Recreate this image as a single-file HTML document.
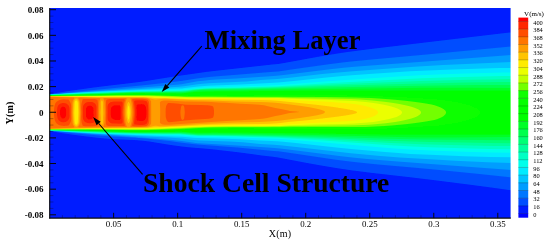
<!DOCTYPE html><html><head><meta charset="utf-8"><title>Jet velocity contour</title>
<style>html,body{margin:0;padding:0;background:#fff}svg{display:block}text{font-family:"Liberation Serif",serif;fill:#000}</style></head><body>
<svg width="550" height="245" viewBox="0 0 550 245">
<defs><clipPath id="pc"><rect x="49.6" y="8.1" width="461.0" height="210.0"/></clipPath>
<filter id="bl" x="-2%" y="-2%" width="104%" height="104%"><feGaussianBlur stdDeviation="0.50"/></filter></defs>
<rect width="550" height="245" fill="#fff"/>
<g clip-path="url(#pc)"><g filter="url(#bl)" fill-rule="evenodd">
<rect x="46.6" y="5.1" width="467.0" height="216.0" fill="#0000ff"/>
<path fill="#001bff" d="M48.9,7.1 511.6,7.1 511.6,219.1 48.6,219.1 48.6,7.1Z"/>
<path fill="#004eff" d="M509.4,32.6 510.9,32.4 511.6,32.4 511.6,190.3 510.6,190.3 491.1,187.6 468.4,184.6 436.9,180.6 412.3,177.6 370.6,172.7 351.1,170.2 337.6,168.2 322.6,165.8 307.1,163 278.1,157.6 272.9,156.8 261.9,155.5 243.9,153.1 229.6,151.3 214.2,149.6 206.7,148.8 191.3,147.5 181.8,146.5 170.8,145 149.2,141.6 143.2,140.8 134.2,140.1 116.1,139.2 108.3,138.8 102.3,138.3 97.3,137.7 84.8,136.2 73.1,134.7 61.1,133 49.6,131.1 48.6,131 48.6,94.2 49.6,94.1 59.3,92.5 70.6,90.7 90.1,88 103.8,86.2 129.2,83.3 141.1,81.8 149.3,80.6 174.1,76.5 205.6,72 213.8,71 243.1,67.8 272.2,64.6 278.1,63.9 284.1,62.9 316.9,57 328.4,55 342.4,52.7 354.9,51 374.9,48.5 420.9,43.1Z"/>
<path fill="#0076ff" d="M511.1,46.6 511.6,46.6 511.6,177.4 510.1,177.3 477.2,173.8 436.9,169.8 418.4,168.1 378.4,164.5 356.4,162.2 345.9,161 334.4,159.5 283.8,152.1 278.2,151.3 273.6,150.9 237.6,147.6 197.6,144.5 192.8,144 180.3,142.4 169.5,141.1 155.6,139.6 145.3,138.6 135.6,137.8 112.6,136.5 101.8,135.7 76.8,133.5 48.6,130.7 48.6,94.5 86.1,90.7 133.4,86.3 152.9,84.3 168.4,82.6 180.8,81.1 185.8,80.3 198.6,78.2 209.1,77 214.8,76.5 236.8,74.8 249.3,73.8 270.6,72.1 278.4,71.4 295,69.1 328.9,64.2 342.4,62.5 353.6,61.2 371.9,59.5 426.7,54.6Z"/>
<path fill="#009dff" d="M511.1,55.1 511.6,55.1 511.6,170.1 427.4,163.7 391.1,161.1 367.3,159.1 354.6,157.8 341.3,156.3 294.4,150.2 282.1,148.7 274.6,148 256.6,146.7 236.8,145.5 220.1,144.6 198.9,143.3 197.8,143.2 196.3,143.1 195.6,142.9 192.5,142.6 181.6,140.9 174.6,140.2 170.4,139.8 169.4,139.7 167.6,139.6 166.4,139.4 161.5,139.1 160.1,138.9 158.3,138.8 157.1,138.7 155,138.6 153.8,138.4 151.6,138.3 150.3,138.2 148.1,138.1 147.1,137.9 144.7,137.8 143.6,137.7 141.3,137.6 140.3,137.4 138.1,137.4 137.1,137.2 134.8,137.1 133.6,136.9 131.3,136.9 130.1,136.7 127.9,136.6 126.6,136.4 124.4,136.3 96.6,134.3 48.6,130.5 48.6,94.7 50.1,94.6 63.6,93.4 91.6,91.2 154.9,86.6 170.4,85.3 181.8,84.2 185.4,83.6 193.8,82 197.7,81.3 203.1,80.7 209.3,80.1 216.3,79.6 236.3,78.5 251.2,77.6 270.1,76.3 276.4,75.8 281.4,75.3 293.7,73.8 317.9,70.7 330.1,69.2 343.6,67.7 354.6,66.7 370.9,65.5 425.7,61.6Z"/>
<path fill="#00c4ff" d="M511.1,62.1 511.6,62.1 511.6,163.1 487.4,162.2 455.1,160.7 425.8,159.1 399.4,157.4 377.6,155.7 350.9,153.2 335.4,151.5 298.6,147.2 280.1,145.3 273.9,144.8 260.1,143.9 243,142.3 229.5,141.6 199.1,140.4 193.8,140 182,138.6 175.6,138.1 167.6,137.6 140.8,136.3 100.3,134 76.1,132.4 48.6,130.4 48.6,94.8 72.6,93 99.3,91.2 140.8,88.9 167.6,87.6 179,86.8 183.9,86.3 197.6,84.3 202.8,83.7 208.8,83.3 213.3,83 230.6,82.3 240.2,81.8 246.6,81.4 260.7,80.1 277.4,79 292.1,77.5 322.2,74.1 338.4,72.4 352.9,71.2 382.9,69 414.1,66.8 443.1,65.1 477.1,63.5Z"/>
<path fill="#00ebff" d="M499.1,68.1 511.6,67.9 511.6,157.3 490.9,156.9 464.4,156.2 429.8,154.8 410.4,153.9 398.4,153.1 384.9,152.1 353.6,149.3 338.7,147.8 298.1,143.3 283.3,141.8 277.3,141.3 259.9,140.5 239.6,139.3 225.4,138.8 197.6,138.1 192.8,137.7 182.6,136.8 173.1,136.4 140.3,135.3 104.3,133.7 89.1,133 74.8,132.1 48.6,130.3 48.6,94.9 74.8,93.1 103.3,91.5 139.8,89.9 166.4,89.1 178.4,88.6 182.1,88.4 184.9,88.1 198.3,86.4 207.6,85.8 213.8,85.5 240.7,84.6 260.4,83.5 278,82.6 283.8,82.1 296.2,80.8 326.6,77.6 342.5,76.1 351.8,75.3 372.8,73.8 410.3,71.3 427.6,70.4 452.9,69.4 475.9,68.7Z"/>
<path fill="#00ffeb" d="M503.4,72.6 511.6,72.5 511.6,152.7 492.1,152.4 464.6,151.7 429.9,150.5 410.6,149.5 398.6,148.7 385.4,147.7 315.5,141.8 278,138.8 234.8,137.4 197.3,136.6 192.1,136.2 183.8,135.6 178.6,135.3 170,135.1 140.8,134.5 114.6,133.7 97.3,133 79.2,132.1 66.2,131.3 48.6,130.2 48.6,95 66.2,93.8 79.2,93.1 93.8,92.4 109.6,91.7 139.6,90.7 170,90.1 180.3,89.8 186,89.3 198.3,87.9 205.3,87.5 210.3,87.2 236.6,86.6 261.4,85.7 273.3,85.3 278.8,85.1 314.6,82.2 331.4,81 367.8,78.6 402.6,76.2 419.9,75.2 436.9,74.5 465.1,73.5 484.6,73Z"/>
<path fill="#00ffc4" d="M502.6,76.1 511.6,76 511.6,149.2 489.6,148.9 462.1,148.3 429.4,147.2 412.4,146.5 389.9,145.2 323.7,140.6 277.4,137.7 236.6,136.5 213.6,136.1 198.6,135.9 194.3,135.7 184.1,134.8 178.6,134.6 166.1,134.4 141.3,134 121.1,133.5 100.3,132.7 83.3,132 67.8,131.2 48.6,130.1 48.6,95.1 67.6,94 81.8,93.3 115.8,91.9 139.6,91.2 168.3,90.8 180.8,90.5 186.1,90.1 194.8,89 198.3,88.7 204.6,88.3 210.1,88.1 240.1,87.4 277.9,86.3 327.9,83.2 369.2,81.1 407.1,79 422.4,78.2 437.6,77.7 463.4,76.9 483.1,76.4Z"/>
<path fill="#00ff9d" d="M511.1,79.1 511.6,79.1 511.6,146.1 493.9,145.9 470.1,145.5 440.6,144.8 420.6,144.2 403.6,143.5 390.9,142.9 322.1,139.1 278.6,136.9 236.1,135.9 213.1,135.5 198.6,135.4 194.1,135.1 184.1,134.3 180.1,134.1 168.8,133.9 142.3,133.6 126.1,133.3 84.6,131.7 48.6,130 48.6,95.2 84.3,93.5 125.1,92 142.1,91.6 169.1,91.3 180.6,91.1 185.6,90.7 197.6,89.2 206.8,88.7 214.1,88.5 239.8,88.1 277.9,87.1 327.4,84.7 369.9,83.1 420.6,81 440.4,80.4 469.6,79.7 489.6,79.4Z"/>
<path fill="#00ff76" d="M499.6,82.1 511.6,82 511.6,143.2 489.4,143 464.9,142.6 430.1,142 412.4,141.5 387.6,140.7 321.4,137.8 279.9,136.2 236.3,135.3 213.1,135 198.6,134.9 194.6,134.7 185.1,133.9 180.8,133.6 170.1,133.5 142.3,133.3 129.3,133 84.3,131.4 48.6,129.9 48.6,95.3 84.3,93.8 129.1,92.2 142.3,91.9 170.1,91.7 180.8,91.6 185.6,91.2 194.1,90.1 198.1,89.7 203.5,89.3 210,89.1 239.6,88.7 277.6,87.8 327.9,86.1 373.6,84.8 422.9,83.4 465.1,82.6Z"/>
<path fill="#00ff4e" d="M476.4,85.1 511.6,84.9 511.6,140.3 481.6,140.1 447.9,139.8 422.1,139.5 399.6,139 380.6,138.5 320.9,136.5 282.1,135.5 236.8,134.7 213.1,134.4 198.3,134.4 193.1,134.1 184.3,133.3 180.6,133.1 140.8,132.9 129.8,132.7 48.6,129.9 48.6,95.3 130.8,92.5 141.3,92.3 180.8,92.1 183.1,92 185.6,91.7 194,90.6 198.6,90.1 204,89.8 211.3,89.6 243.1,89.3 281.1,88.5 327.4,87.4 379.1,86.6 420.9,85.7Z"/>
<path fill="#00ff27" d="M419.9,87.8 471.4,87.8 511.6,88.1 511.6,137.1 485.6,137.3 451.9,137.4 424.9,137.4 406.1,137.2 390.1,136.8 335.9,135.4 312.6,134.9 237.1,133.8 213.1,133.6 198.3,133.7 193.8,133.5 184.6,132.6 180.8,132.5 139.8,132.4 132.3,132.3 123.1,132.1 101.3,131.3 48.6,129.8 48.6,95.4 101.3,93.9 123.1,93.1 132.3,92.8 139.6,92.8 181.1,92.7 185.6,92.4 194.4,91.3 198.3,90.8 203.8,90.6 210.8,90.4 240.3,90.2 261.1,89.8 322.9,89 369.6,88.6Z"/>
<path fill="#00ff00" d="M315.9,90.6 338.1,90.5 385.1,90.6 428.9,90.4 511.6,90.4 511.6,134.8 428.9,134.8 398.9,134.7 376.4,134.4 316.4,133.4 243.6,132.7 213.6,132.6 198.1,132.7 194.3,132.6 185.3,132 181.3,131.8 143.8,132 133.1,131.9 123.6,131.7 100.8,130.9 48.6,129.7 48.6,95.5 100.8,94.3 123.6,93.5 133.1,93.3 143.8,93.2 181.1,93.4 185.6,93.1 194.8,92.1 197.8,91.9 209.1,91.5 242.4,91.3Z"/>
<path fill="#00ff00" d="M293.4,92.3 318.9,92.1 340.9,92.2 439.6,93.2 456.1,93.6 472.6,94.3 489.6,95.2 511.6,96.5 511.6,128.7 493,129.8 479.9,130.6 466.1,131.2 452.9,131.7 432.6,132.1 389.1,132.5 358.4,132.3 289.4,131.6 276.9,131.4 243.8,131.2 213.1,131.2 197.1,131.5 183.1,131.1 178.1,131.1 147.6,131.5 136.3,131.5 125.6,131.3 100.3,130.6 48.6,129.6 48.6,95.6 100.6,94.6 124.3,93.9 133.8,93.7 146.1,93.7 170.6,94 180.6,94.1 185.6,93.9 197.8,93.1 208.1,92.9 246.6,92.8 276.6,92.6Z"/>
<path fill="#04ff00" d="M308.6,93.8 332.4,93.8 361.6,94.1 383.9,94.6 416.6,95.4 434.1,96 445.6,96.7 458.6,97.7 470.6,98.9 476.9,99.7 483.4,100.7 489.4,101.7 494.6,102.7 499.1,103.7 503.1,104.7 507.4,105.9 510.9,107.2 511.6,107.2 511.6,118 510.9,118 506.9,119.4 502.4,120.7 497.1,122 492.1,123 486.6,124 480.1,125 473.1,125.9 466.4,126.7 453.1,128 439.4,128.9 423.9,129.5 399.4,130.3 381.4,130.6 362.6,130.6 320.9,130.2 289.6,130 275.4,129.8 235.1,129.6 211.6,129.8 188.3,130.3 174.6,130.4 149.8,130.9 139.1,131 127.1,130.9 100.1,130.2 48.6,129.5 48.6,95.7 100.3,95 125.8,94.3 136.3,94.2 148.1,94.2 164.6,94.6 181.1,94.8 187.6,94.7 209.8,94.3 237.1,94.4 255.3,94.4 277.1,94.2 289.1,94Z"/>
<path fill="#0eff00" d="M123.3,94.8 136.3,94.7 146.8,94.7 156.8,94.9 181.1,95.6 192.3,95.7 211.6,95.6 237.6,95.7 277.1,95.6 289.9,95.5 315.6,95.5 333.6,95.6 355.6,95.8 365.6,96 378.2,96.4 395.4,97.1 413.9,98.1 435.1,99.6 440.2,100.1 446.3,100.8 451.3,101.6 455.6,102.3 460.5,103.3 465.6,104.6 469.9,105.8 473.9,107.4 476.5,108.6 478.3,109.8 479.1,110.6 479.6,111.3 479.9,111.8 480,112.6 479.9,113.3 479.6,113.9 479.1,114.6 478.3,115.3 477.3,116.1 476,116.8 474.5,117.6 472.7,118.3 468.3,119.8 463.7,121.1 458.1,122.3 452.8,123.3 448,124.1 442.4,124.8 437.9,125.4 432.4,125.8 409.6,127.3 390.1,128.3 375.9,128.7 361.6,128.9 323.1,128.6 288.9,128.5 277.1,128.4 237.6,128.3 214.6,128.4 207.1,128.6 199.3,128.8 181.1,129.6 155,130.3 141.6,130.5 128.8,130.5 100.1,129.9 48.6,129.4 48.6,95.8 100.3,95.3Z"/>
<path fill="#73ff00" d="M120.6,95.3 136.6,95.2 148.1,95.2 158.9,95.5 186.1,96.4 195.3,96.6 211.3,96.5 234.1,96.7 265.4,96.7 324.4,97 355.1,97.5 362.9,97.8 370.9,98.1 378.7,98.6 389,99.3 397.6,100.1 405.1,100.8 411.6,101.6 419.2,102.6 425.8,103.6 431.5,104.6 434.6,105.3 437.4,106.2 440.1,107.2 442.1,108.2 443.8,109.3 444.6,110 445.2,110.6 445.8,111.6 446,112.1 446,112.8 445.7,113.8 445.2,114.6 444.7,115.1 443.4,116.2 441.6,117.2 439.4,118.3 436.9,119.2 434.4,119.9 431.5,120.6 425.8,121.6 419.2,122.6 411.6,123.6 405.1,124.3 391.6,125.6 384.5,126.1 375.1,126.6 365.4,126.9 355.9,127.1 314.6,127.1 266.9,127.3 233.1,127.3 213.1,127.5 199.1,127.9 180.9,128.9 156.6,129.8 143.6,130 130.8,130 100.8,129.6 48.6,129.3 48.6,95.9 100.6,95.6Z"/>
<path fill="#c0ff00" d="M116.1,95.8 135.8,95.7 147.1,95.7 157.6,96 183.9,97.1 194.8,97.3 212.1,97.2 232.6,97.4 264.9,97.4 277.1,97.5 293.1,98 336.1,98.7 349.1,99.1 359.6,99.5 366.1,99.9 372.4,100.4 384.1,101.7 389.9,102.5 394.9,103.2 399.4,104 404.1,104.9 407.6,105.7 411.4,106.7 414.4,107.7 416.9,108.7 418.5,109.6 419.9,110.6 420.4,111.1 420.7,111.6 420.9,112.1 421,112.6 420.9,113.1 420.7,113.6 420.4,114.1 419.9,114.6 418.5,115.6 416.9,116.5 414.4,117.5 411.4,118.5 408.4,119.3 404.4,120.2 399.4,121.2 395.1,121.9 385.6,123.2 374.9,124.3 369.1,124.7 363.1,125 356.4,125.3 347.9,125.4 300.6,125.9 289.9,126.1 278.9,126.4 271.9,126.5 231.3,126.6 210.6,126.8 198.3,127.2 182.6,128.1 161.8,129 152.4,129.3 144.8,129.5 133.3,129.5 101.6,129.2 48.6,129.3 48.6,95.9 100.1,96Z"/>
<path fill="#ebff00" d="M48.9,96 92.3,96.3 142.3,96.2 152.1,96.4 176.3,97.5 187.9,97.8 195.6,97.8 211.8,97.7 232.1,97.8 269.1,97.9 278.8,98.1 288.9,98.7 296.6,99 326.6,99.8 340.4,100.4 354.1,101.1 363.1,101.8 367.7,102.3 373.4,103.1 378.2,103.8 383.7,104.8 387.2,105.6 391.2,106.6 394.6,107.6 397.3,108.6 399.3,109.6 400.8,110.6 401.3,111.1 401.7,111.6 401.9,112.1 402,112.6 401.8,113.3 401.5,113.8 401.1,114.3 400.2,115.1 398.4,116.1 396.6,116.9 393.7,117.8 391.1,118.6 388,119.3 381.7,120.6 373.4,121.9 363.9,122.8 354.6,123.5 342.4,123.9 313.9,124.5 299.1,124.9 289.4,125.3 279.4,125.9 273.9,126 263.6,126.2 225.1,126.2 208.1,126.4 197.8,126.8 155.1,128.7 145.3,129 137.8,129 90.6,128.9 48.6,129.2 48.6,96Z"/>
<path fill="#ffeb00" d="M48.9,96.1 88.3,96.5 143.1,96.7 149.1,96.9 174.3,98.1 184.8,98.4 192.9,98.4 211.1,98.3 235.3,98.4 263.1,98.4 273.8,98.6 279.6,98.8 288.6,99.7 292.9,100 301.4,100.5 327.9,101.8 337.4,102.4 347.1,103.2 355.9,104.2 360.6,105 365.1,106 368.9,107 372.1,108 374.9,109.2 376.6,110.3 377.2,110.8 377.8,111.6 378,112.1 378,112.6 377.8,113.3 377.5,113.8 377,114.3 376.3,114.8 374.4,116 371.9,117 368.6,118 364.6,119 360.6,119.7 356.9,120.3 350.4,120.9 342.6,121.5 333.6,122 311.6,123 297.6,123.7 289.4,124.2 280.4,125.1 277.6,125.3 263.6,125.6 229.8,125.6 210.8,125.8 203.6,126 174.3,127.1 149.1,128.3 143.1,128.5 88.6,128.7 48.6,129.1 48.6,96.1Z"/>
<path fill="#ffc400" d="M48.8,96.2 75.8,96.7 94.8,96.9 142.3,97.1 147.3,97.3 154.8,97.9 162.8,98.1 177.3,98.8 184.8,99 193.3,99.2 210.3,99.3 236.6,99.8 261.1,100 269.9,100.3 277.4,100.7 280.4,101 289.9,102.1 301.6,103.2 313.4,104.5 316.3,104.8 317.6,104.9 318.5,105.1 319.9,105.2 320.5,105.3 321.9,105.4 322.5,105.6 323.9,105.7 324.5,105.8 325.9,106 326.5,106.1 327.6,106.2 328.3,106.3 329.6,106.4 330.2,106.6 331.4,106.7 332,106.8 333.4,107 333.8,107.1 334.9,107.2 335.6,107.3 336.6,107.4 337.3,107.6 338.4,107.7 338.9,107.9 339.9,107.9 340.5,108.1 341.6,108.2 342.1,108.3 343.1,108.4 343.6,108.6 344.6,108.7 345.1,108.8 346.1,108.9 346.5,109.1 347.4,109.2 347.8,109.3 348.6,109.4 349.2,109.6 350.1,109.7 350.4,109.9 351.1,109.9 351.6,110.1 352.1,110.1 352.6,110.3 353.1,110.4 353.6,110.6 354.1,110.7 355.6,111.2 356.6,111.7 357,112.1 357.1,112.3 356.9,112.7 356.1,113.2 354.6,113.8 354.1,113.8 353.6,114 353.1,114.1 352.6,114.3 352,114.3 351.4,114.5 350.7,114.6 350.1,114.8 349.3,114.8 348.9,115 347.9,115.1 347.4,115.3 346.3,115.3 345.9,115.5 344.8,115.6 344.1,115.8 343.1,115.8 342.4,116 341.3,116.1 340.6,116.3 339.6,116.3 338.9,116.5 337.7,116.6 337.1,116.8 335.8,116.8 335.1,117 333.8,117.1 333.4,117.2 331.8,117.3 331.1,117.5 329.8,117.6 329.1,117.8 327.8,117.8 327.1,118 325.6,118.1 324.9,118.3 323.5,118.3 322.9,118.5 319.1,118.8 318.4,119 316.9,119.1 316.1,119.2 302.1,120.7 288.1,122.1 280.6,123 277.6,123.3 270.6,123.7 262.4,124 234.1,124.3 211.3,124.8 201.1,125.2 185.1,126.1 164.8,127 160.8,127.2 154.8,127.3 147.3,127.9 143.3,128 94.1,128.3 75.8,128.5 48.6,129 48.6,96.2ZM75.8,100.6 75.3,101 75.1,101.5 74.8,102.3 74.7,103.3 74.3,113.1 74.5,117.3 74.6,121.1 74.8,122.6 75.1,123.6 75.3,124.2 75.8,124.6 76.3,124.7 76.8,124.5 77.3,123.9 77.6,123.1 77.8,122.1 78.3,112.1 78,107.6 77.9,103.8 77.7,102.3 77.3,101.3 76.8,100.7 76.3,100.5ZM128.6,105.6 128.3,105.8 128.1,106.4 127.8,107.6 127.5,110.1 127.3,112.6 127.5,115.1 127.8,117.7 128.1,118.8 128.3,119.3 128.6,119.6 128.8,119.4 129.1,118.8 129.4,117.6 129.7,115.1 129.9,112.6 129.7,110.1 129.4,107.6 129,106.1 128.8,105.8Z"/>
<path fill="#ff9d00" d="M48.9,96.4 75.1,97 99.1,97.4 101.8,97.5 105.1,97.4 143.3,97.6 146.1,97.7 147.8,97.9 149.6,98.2 153.6,99.2 155.1,99.4 156.3,99.4 161.1,98.9 165.6,98.8 189.9,100 211.1,100.5 235.1,101.4 258.9,102 267.4,102.3 275.1,102.8 280.5,103.3 299.7,105.8 309.6,107.3 316.9,108.7 319.1,109.2 321.6,109.9 323.1,110.5 324.1,111 324.8,111.6 325,111.8 325,112.1 324.8,112.6 323.9,113.3 322.9,113.7 321.4,114.2 317.1,115.3 309.9,116.6 300,118.1 280.9,120.6 275.7,121.1 268.4,121.6 259.1,122 236.8,122.6 214.1,123.4 200.6,124.1 180.6,125.6 165.9,126.3 161.3,126.3 159.3,126.2 156.3,125.8 155.1,125.8 153.6,126 149.6,127 147.8,127.3 143.3,127.6 105.1,127.8 101.8,127.7 99.1,127.8 75.1,128.2 48.6,128.8 48.6,96.4ZM75.7,98.8 75.1,99.3 74.5,100.1 74,101.1 73.7,102.3 73.4,104.3 73.1,113.1 73.5,121.1 73.6,122.3 73.8,123.3 74.2,124.6 74.8,125.6 75.6,126.3 75.8,126.4 76.3,126.5 76.8,126.4 77.1,126.2 77.9,125.3 78.4,124.3 78.8,123.1 79.1,120.8 79.4,113.8 79.4,111.8 79,103.8 78.9,102.6 78.7,101.6 78.2,100.3 77.8,99.8 77.3,99.2 76.9,98.8 76.6,98.7 76.1,98.7ZM101.6,100.6 101.3,100.8 101.1,101.2 100.8,102.6 100.8,103.8 100.9,107.3 100.6,111.3 100.5,112.8 100.9,117.8 100.8,121.3 100.8,122.8 101.2,124.1 101.3,124.4 101.6,124.6 101.8,124.7 102.1,124.6 102.3,124.5 102.6,124.2 102.8,123.5 103,122.6 103.1,121.3 103,117.8 103.3,113.8 103.3,112.4 103,107.6 103.1,103.6 103,102.3 102.8,101.6 102.5,100.8 102.1,100.6ZM128.3,102.1 127.9,102.6 127.5,103.3 126.9,105.3 126.3,109.6 126.2,112.8 126.2,114.6 126.4,116.6 127.1,120.3 127.4,121.6 127.8,122.3 128.3,123.1 128.6,123.2 128.9,123.1 129.4,122.3 129.8,121.3 130.2,120.1 130.8,116.1 131,114.1 131.1,112.3 131,110.6 130.7,108.3 130.4,106.1 130,104.3 129.5,103.1 129.1,102.4 128.8,102.1 128.6,102Z"/>
<path fill="#ff7600" d="M48.8,96.8 72.3,97.4 74.1,97.6 74.3,97.8 74.4,98.1 74.1,98.8 73.5,99.6 72.9,100.6 72.5,102.1 72.4,103.6 72.4,107.6 72.2,112.3 72.5,122.8 72.7,123.8 73,124.8 73.5,125.6 74.1,126.4 74.4,127.1 74.4,127.3 74.1,127.6 72.1,127.8 48.6,128.4 48.6,96.8ZM80.1,97.6 97.3,97.9 99.3,98.1 100.3,98.4 100.4,98.6 100.4,98.8 100.1,99.3 99.6,100.8 99.3,102.6 99,112.6 99.3,122.6 99.6,124.3 100.1,125.9 100.4,126.3 100.4,126.6 100.3,126.8 99.1,127.2 97.3,127.3 81.1,127.6 79.1,127.5 78.4,127.3 78.3,127.1 78.3,126.6 78.6,126.1 79.1,125.3 79.5,124.6 79.9,123.1 80,121.3 80.4,112.6 80,103.8 79.9,102.1 79.5,100.6 79.1,99.8 78.6,99.1 78.3,98.6 78.3,98.1 78.4,97.8 78.8,97.7ZM104.8,98.1 107.3,98 125.6,98.1 126.3,98.2 126.7,98.3 126.7,98.8 125.8,101.6 125.5,103.1 124.9,109.8 124.8,112.6 124.9,115.3 125.5,122.1 125.8,123.6 126.7,126.3 126.7,126.6 126.6,126.9 126.3,127 125.6,127.1 106.6,127.2 104.6,127.1 103.6,126.8 103.4,126.6 104.2,124.1 104.5,122.6 104.9,112.6 104.5,102.6 104.2,101.1 103.4,98.6 103.6,98.3ZM135.8,98.1 143.3,98.2 145.8,98.3 147.6,98.6 148.9,99.1 149.7,99.6 150.4,100.3 151.1,101.6 151.2,109.3 151.2,118.3 151.1,123.6 150.4,124.8 149.9,125.3 149.4,125.8 148.4,126.3 147.6,126.6 146.3,126.8 142.3,127.1 131.6,127.1 130.8,127 130.6,126.8 130.4,126.3 131.3,123.1 131.6,121.6 132.3,115.6 132.4,112.6 132.3,109.6 131.6,103.6 131.3,102.1 130.6,99.3 130.5,98.6 130.6,98.3 131.1,98.2ZM164.1,100.6 165.8,100.4 168.6,100.4 180.6,101.2 185.1,101.5 203.6,101.7 211.3,101.9 218.1,102.5 225.6,102.8 240.1,103.8 251.9,104.3 259.2,104.8 264,105.3 266.9,105.9 275.4,107.9 280.9,108.9 288.1,110.6 289.6,110.9 296.6,111.6 297.6,111.8 298.7,111.8 299.1,112.1 297.9,112.2 297.1,112.3 290,113.1 288.4,113.3 281.1,115 275.5,116.1 267.1,118.1 264.3,118.6 259.9,119.1 252.8,119.6 240.8,120.2 226.4,121.1 219.1,121.5 211.1,122.1 184.6,123.7 169.3,124.8 167.3,124.8 164.8,124.7 162.9,124.5 161.4,124.1 160.4,123.3 159.9,122.8 160.1,117.8 160.2,112.6 160.1,107.3 159.9,102.3 160.4,101.8 161.4,101.1 162.6,100.8Z"/>
<path fill="#ff4e00" d="M136.3,98.8 142.3,98.8 144.3,99 145.8,99.2 146.8,99.5 147.6,99.8 148.1,100.3 148.7,101.3 149,102.3 149.2,104.1 149.4,107.6 149.5,115.3 149.3,119.6 149.1,122 148.7,123.8 147.9,125.1 147.1,125.6 146.3,125.9 144.8,126.2 142.8,126.3 140.8,126.4 137.1,126.4 133.6,126.2 132.6,126.1 132.2,125.8 132.2,125.6 132.3,124.6 132.8,122.6 133.2,119.8 133.6,115.3 133.7,112.6 133.6,109.6 133.1,104.8 132.8,102.6 132.3,100.6 132.2,99.6 132.2,99.3 132.3,99.2 132.8,99ZM83.8,99.1 87.8,99 94.6,99.1 95.6,99.2 96.3,99.4 97.3,99.8 97.4,100.1 97.8,102.1 98,105.1 98,107.6 97.8,112.6 98,119.6 97.8,122.4 97.6,124.1 97.3,125.2 97.3,125.3 96.8,125.6 96.1,125.9 95.3,126.1 92.8,126.2 85.1,126.2 83.6,126.1 82.7,125.8 81.6,122.3 81.3,120.1 81.2,117.6 81.4,112.6 81.2,107.8 81.3,105.9 81.4,104.3 81.6,102.9 82.6,99.6 82.7,99.3ZM63.6,99.3 67.1,99.4 68.1,99.6 68.6,99.8 68.9,100.1 69.3,100.7 70.3,102.5 70.8,103.8 71.1,105.1 71.2,107.3 71.1,112.6 71.2,117.6 71.2,119.3 71,120.6 70.8,121.6 70.3,122.7 69.1,124.9 68.8,125.2 68.3,125.5 67.3,125.8 66.1,125.8 63.9,125.9 61.9,125.7 59.6,125.2 58.9,125 58.1,124.6 57.4,124.1 56.5,123.3 56.1,122.8 55.6,122.1 55.1,121.1 54.7,120.1 54.3,117.8 54.1,116.1 54,114.3 54,110.8 54.1,108.6 54.3,107.3 54.5,105.8 55,104.3 55.4,103.3 56.1,102.3 56.6,101.8 57.6,100.9 58.6,100.4 59.6,100 60.9,99.7 61.9,99.5ZM108.1,99.3 109.6,99.1 112.1,99.1 123.6,99.1 124.3,99.2 124.7,99.3 124.8,99.8 124.8,100.6 124.3,102.3 124,104.3 123.6,110.1 123.5,112.6 123.6,115.1 124.1,121.3 124.3,123.1 124.8,124.8 124.8,125.6 124.7,125.8 124.6,125.9 124.1,126 123.3,126.1 109.6,126.1 108.3,125.9 107.6,125.8 106.8,125.4 106.3,125.1 106.2,124.8 106,123.6 105.9,120.1 105.9,117.8 106.1,112.8 105.9,106.3 106,102.1 106.2,100.6 106.4,100.1 107.1,99.6ZM168.3,103.1 169.6,103 173.8,103.3 178.8,103.8 184.1,104.6 186.6,104.8 200.8,105.1 207.6,105.3 209.8,105.5 212.1,105.9 212.8,106.3 213.1,106.7 213.5,107.6 213.8,108.8 214,110.6 214,113.3 213.9,114.8 213.6,116.1 213.1,117.4 212.9,117.6 212.6,117.9 212.1,118.1 211.3,118.3 209.1,118.7 196.8,119.6 187.1,120.2 184.3,120.5 178.8,121.3 174.3,121.8 169.6,122.2 168.3,122.1 167.6,121.6 167,120.8 166.5,119.8 166.1,118.6 165.8,117.6 165.7,116.1 165.6,112.1 165.7,108.6 165.9,107.6 166.1,106.3 166.6,105.1 167.1,104.2 167.6,103.6ZM182.2,105.3 181.6,105.8 181.3,106.3 181.1,106.9 180.5,110.8 180.4,112.8 180.8,116.9 181.2,118.6 181.4,119.1 181.8,119.6 182.2,119.8 182.6,119.9 182.9,119.8 183.4,119.6 183.9,119.1 184.1,118.6 184.3,117.3 184.7,113.6 184.8,112.3 184.3,107.6 184,106.3 183.7,105.8 183.1,105.4 182.6,105.3Z"/>
<path fill="#ff2700" d="M138.1,100.3 142.1,100.3 143.8,100.5 145.1,100.7 145.8,101 146.6,101.3 147.1,102.1 147.5,103.1 147.8,104.3 148,105.6 148.2,108.8 148.2,115.8 148,119.6 147.6,121.7 147.1,123.1 146.6,123.8 145.8,124.2 145.1,124.5 144.1,124.7 142.6,124.9 139.3,124.9 135.1,124.6 134.3,124.4 134.2,124.1 134.2,122.8 134.8,115.6 134.9,112.6 134.8,109.6 134.2,102.3 134.2,101.1 134.3,100.9 134.8,100.6ZM114.1,101.6 118.3,101.5 121.3,101.5 122.1,101.7 122.3,102 122.5,102.3 122.7,103.3 122.7,105.1 122.3,112.8 122.6,119.1 122.7,121.6 122.6,122.4 122.4,123.1 122.1,123.5 121.9,123.6 120.6,123.7 114.8,123.6 112.8,123.5 111.3,123.2 110.3,122.8 109.3,122.1 108.4,121.1 107.8,119.9 107.6,118.6 107.5,116.8 107.6,112.6 107.5,107.8 107.6,106.4 107.8,105.3 108.1,104.6 108.6,103.8 109.3,103 110.1,102.5 110.8,102.1 111.6,101.9 112.6,101.7ZM87.6,102.1 89.1,101.9 90.8,101.9 92.3,102.1 93.3,102.4 94.3,102.9 95.3,103.8 95.8,104.7 96.3,105.8 96.5,107.1 96.5,108.6 96.4,112.6 96.5,117.1 96.4,118.3 96.3,119.3 95.8,120.6 95.3,121.3 94.9,121.8 94.2,122.3 93.6,122.7 92.3,123.1 90.8,123.3 88.8,123.3 87.3,123.1 86.1,122.6 85.1,122 84.1,121 83.4,119.8 83,118.6 82.8,116.6 82.9,112.6 82.8,108.8 82.9,107.6 83.1,106.3 83.4,105.3 83.8,104.6 84.8,103.4 85.3,103 86.1,102.6ZM62.4,103.1 63.6,103 65.1,103.2 66.3,103.6 67.3,104.2 68.3,105.1 68.9,106.1 69.3,107.3 69.5,108.6 69.6,116.3 69.4,117.8 69,118.8 68.7,119.6 68.3,120.1 67.8,120.6 67.1,121.2 66.3,121.6 65.6,121.9 63.9,122.2 62.6,122.2 61.1,121.9 59.9,121.3 58.8,120.5 58.2,119.6 57.7,118.6 57.3,117.1 57.1,115.6 57,112.8 57.1,109.6 57.3,107.8 57.8,106.3 58.5,105.1 59.4,104.3 60.1,103.8 60.9,103.4 61.6,103.2Z"/>
<path fill="#ff0000" d="M138.3,104.3 140.1,104.2 141.8,104.1 142.8,104.3 143.7,104.6 144.6,105.1 145.1,105.7 145.6,106.5 146,107.6 146.3,109.3 146.4,111.6 146.4,115.1 146.1,117.3 145.6,118.7 145.2,119.3 144.8,119.8 144.1,120.4 142.8,120.9 142.1,121 140.8,121.1 139.3,121 138.1,120.8 137.6,120.7 137.1,120.4 136.8,120.1 136.6,119.6 136.5,118.8 136.4,117.8 136.6,112.6 136.4,107.8 136.5,106.3 136.6,105.6 136.8,105.1 137,104.8 137.6,104.5ZM115.6,105.3 117.8,105.2 119.4,105.3 119.8,105.5 120.1,105.7 120.3,106 120.6,106.6 120.8,107.6 120.8,108.6 120.7,112.3 120.8,116.1 120.8,117.6 120.6,118.6 120.3,119.2 120,119.6 119.4,119.9 118.1,120 116.1,119.9 114.6,119.7 113.4,119.3 112.5,118.8 111.8,118.2 111.3,117.5 111,116.6 110.8,115.1 110.8,110.3 110.9,109.1 111.2,108.1 111.4,107.6 111.8,107 112.3,106.5 112.8,106.1 114.1,105.6ZM88.6,105.8 89.3,105.7 90.3,105.7 91.1,105.9 91.8,106.3 92.3,106.7 92.9,107.3 93.3,108.1 93.5,109.1 93.6,110.3 93.5,112.6 93.6,115.1 93.5,116.1 93.3,116.8 92.9,117.8 92.3,118.6 91.3,119.2 90.3,119.5 89.3,119.5 88.6,119.4 88,119.1 87.3,118.7 86.8,118.2 86.5,117.6 86.2,116.8 86,116.1 86,115.1 86,112.6 86,110.1 86.1,108.6 86.5,107.6 87,106.8 87.6,106.3ZM62.6,106.8 63.4,106.7 63.9,106.8 64.4,107.1 65,107.6 65.4,108.1 65.8,108.8 66,109.6 66.1,110.3 66.1,114.7 66,115.6 65.8,116.3 65.4,117.1 64.8,117.8 64.1,118.3 63.4,118.5 62.6,118.4 61.9,118.2 61.1,117.6 60.6,116.8 60.4,116.2 60.2,115.3 60,114.3 60,110.8 60.2,109.8 60.4,109 60.6,108.3 61.1,107.6 61.8,107.1Z"/>
</g></g>
<g stroke="#0a0a0a" fill="none">
<line x1="49.7" y1="8.1" x2="49.7" y2="218.6" stroke-width="1.1"/>
<line x1="49.2" y1="218.1" x2="510.8" y2="218.1" stroke-width="1.1"/>
<path d="M49.7,214.81H56M49.7,189.17H56M49.7,163.53H56M49.7,137.89H56M49.7,112.25H56M49.7,86.61H56M49.7,60.97H56M49.7,35.33H56M49.7,9.69H56" stroke-width="1"/>
<path d="M49.7,208.40H53.4M49.7,201.99H53.4M49.7,195.58H53.4M49.7,182.76H53.4M49.7,176.35H53.4M49.7,169.94H53.4M49.7,157.12H53.4M49.7,150.71H53.4M49.7,144.30H53.4M49.7,131.48H53.4M49.7,125.07H53.4M49.7,118.66H53.4M49.7,105.84H53.4M49.7,99.43H53.4M49.7,93.02H53.4M49.7,80.20H53.4M49.7,73.79H53.4M49.7,67.38H53.4M49.7,54.56H53.4M49.7,48.15H53.4M49.7,41.74H53.4M49.7,28.92H53.4M49.7,22.51H53.4M49.7,16.10H53.4" stroke-width="0.5" stroke-opacity="0.6"/>
<path d="M113.63,218.1V212.8M177.66,218.1V212.8M241.69,218.1V212.8M305.72,218.1V212.8M369.75,218.1V212.8M433.78,218.1V212.8M497.81,218.1V212.8" stroke-width="1"/>
<path d="M62.41,218.1V215.2M75.21,218.1V215.2M88.02,218.1V215.2M100.82,218.1V215.2M126.44,218.1V215.2M139.24,218.1V215.2M152.05,218.1V215.2M164.85,218.1V215.2M190.47,218.1V215.2M203.27,218.1V215.2M216.08,218.1V215.2M228.88,218.1V215.2M254.50,218.1V215.2M267.30,218.1V215.2M280.11,218.1V215.2M292.91,218.1V215.2M318.53,218.1V215.2M331.33,218.1V215.2M344.14,218.1V215.2M356.94,218.1V215.2M382.56,218.1V215.2M395.36,218.1V215.2M408.17,218.1V215.2M420.97,218.1V215.2M446.59,218.1V215.2M459.39,218.1V215.2M472.20,218.1V215.2M485.00,218.1V215.2" stroke-width="0.5" stroke-opacity="0.6"/>
</g>
<g font-size="9" font-weight="bold" fill="#5c5c5c">
<g text-anchor="end">
<text x="43.4" y="218.0">-0.08</text>
<text x="43.4" y="192.4">-0.06</text>
<text x="43.4" y="166.7">-0.04</text>
<text x="43.4" y="141.1">-0.02</text>
<text x="43.4" y="115.5">0</text>
<text x="43.4" y="89.8">0.02</text>
<text x="43.4" y="64.2">0.04</text>
<text x="43.4" y="38.5">0.06</text>
<text x="43.4" y="12.9">0.08</text>
</g><g text-anchor="middle" font-weight="normal" font-size="8.9" fill="#2a2a2a">
<text x="113.6" y="227.3">0.05</text>
<text x="177.7" y="227.3">0.1</text>
<text x="241.7" y="227.3">0.15</text>
<text x="305.7" y="227.3">0.2</text>
<text x="369.8" y="227.3">0.25</text>
<text x="433.8" y="227.3">0.3</text>
<text x="497.8" y="227.3">0.35</text>
</g></g>
<text x="280" y="236.8" font-size="10" text-anchor="middle" letter-spacing="0.2">X(m)</text>
<text transform="translate(12.7,113) rotate(-90)" font-size="10" font-weight="bold" text-anchor="middle" letter-spacing="0.2">Y(m)</text>
<g font-weight="bold" font-size="26.6">
<text x="204.6" y="49.4">Mixing Layer</text>
<text x="143.0" y="192.2" font-size="27.6">Shock Cell Structure</text>
</g>
<line x1="201.8" y1="46.1" x2="167.3" y2="85.7" stroke="#000" stroke-width="1.1"/><polygon points="161.7,92.1 165.3,83.9 169.3,87.5" fill="#000"/>
<line x1="142.6" y1="174.3" x2="98.7" y2="123.5" stroke="#000" stroke-width="1.1"/><polygon points="93.1,117.1 100.7,121.8 96.6,125.3" fill="#000"/>
<g shape-rendering="auto">
<rect x="518.4" y="17.60" width="9.8" height="4.14" fill="#ff0000"/>
<rect x="518.4" y="21.44" width="9.8" height="7.98" fill="#ff2700"/>
<rect x="518.4" y="29.13" width="9.8" height="7.98" fill="#ff4e00"/>
<rect x="518.4" y="36.81" width="9.8" height="7.98" fill="#ff7600"/>
<rect x="518.4" y="44.50" width="9.8" height="7.98" fill="#ff9d00"/>
<rect x="518.4" y="52.18" width="9.8" height="7.98" fill="#ffc400"/>
<rect x="518.4" y="59.87" width="9.8" height="7.98" fill="#ffeb00"/>
<rect x="518.4" y="67.55" width="9.8" height="7.98" fill="#ebff00"/>
<rect x="518.4" y="75.23" width="9.8" height="7.98" fill="#c0ff00"/>
<rect x="518.4" y="82.92" width="9.8" height="7.98" fill="#73ff00"/>
<rect x="518.4" y="90.60" width="9.8" height="7.98" fill="#0eff00"/>
<rect x="518.4" y="98.29" width="9.8" height="7.98" fill="#04ff00"/>
<rect x="518.4" y="105.97" width="9.8" height="7.98" fill="#00ff00"/>
<rect x="518.4" y="113.66" width="9.8" height="7.98" fill="#00ff00"/>
<rect x="518.4" y="121.34" width="9.8" height="7.98" fill="#00ff27"/>
<rect x="518.4" y="129.03" width="9.8" height="7.98" fill="#00ff4e"/>
<rect x="518.4" y="136.71" width="9.8" height="7.98" fill="#00ff76"/>
<rect x="518.4" y="144.40" width="9.8" height="7.98" fill="#00ff9d"/>
<rect x="518.4" y="152.08" width="9.8" height="7.98" fill="#00ffc4"/>
<rect x="518.4" y="159.77" width="9.8" height="7.98" fill="#00ffeb"/>
<rect x="518.4" y="167.45" width="9.8" height="7.98" fill="#00ebff"/>
<rect x="518.4" y="175.13" width="9.8" height="7.98" fill="#00c4ff"/>
<rect x="518.4" y="182.82" width="9.8" height="7.98" fill="#009dff"/>
<rect x="518.4" y="190.50" width="9.8" height="7.98" fill="#0076ff"/>
<rect x="518.4" y="198.19" width="9.8" height="7.98" fill="#004eff"/>
<rect x="518.4" y="205.87" width="9.8" height="7.98" fill="#001bff"/>
<rect x="518.4" y="213.56" width="9.8" height="4.14" fill="#0000ff"/>
<path d="M518.4,21.44H528.2M518.4,29.13H528.2M518.4,36.81H528.2M518.4,44.50H528.2M518.4,52.18H528.2M518.4,59.87H528.2M518.4,67.55H528.2M518.4,75.23H528.2M518.4,82.92H528.2M518.4,90.60H528.2M518.4,98.29H528.2M518.4,105.97H528.2M518.4,113.66H528.2M518.4,121.34H528.2M518.4,129.03H528.2M518.4,136.71H528.2M518.4,144.40H528.2M518.4,152.08H528.2M518.4,159.77H528.2M518.4,167.45H528.2M518.4,175.13H528.2M518.4,182.82H528.2M518.4,190.50H528.2M518.4,198.19H528.2M518.4,205.87H528.2M518.4,213.56H528.2" stroke="#000" stroke-opacity="0.45" stroke-width="0.5" fill="none"/>
</g>
<g font-size="6.4" fill="#151515">
<text x="533.2" y="24.74">400</text>
<text x="533.2" y="32.43">384</text>
<text x="533.2" y="40.11">368</text>
<text x="533.2" y="47.80">352</text>
<text x="533.2" y="55.48">336</text>
<text x="533.2" y="63.17">320</text>
<text x="533.2" y="70.85">304</text>
<text x="533.2" y="78.53">288</text>
<text x="533.2" y="86.22">272</text>
<text x="533.2" y="93.90">256</text>
<text x="533.2" y="101.59">240</text>
<text x="533.2" y="109.27">224</text>
<text x="533.2" y="116.96">208</text>
<text x="533.2" y="124.64">192</text>
<text x="533.2" y="132.33">176</text>
<text x="533.2" y="140.01">160</text>
<text x="533.2" y="147.70">144</text>
<text x="533.2" y="155.38">128</text>
<text x="533.2" y="163.07">112</text>
<text x="533.2" y="170.75">96</text>
<text x="533.2" y="178.43">80</text>
<text x="533.2" y="186.12">64</text>
<text x="533.2" y="193.80">48</text>
<text x="533.2" y="201.49">32</text>
<text x="533.2" y="209.17">16</text>
<text x="533.2" y="216.86">0</text>
</g>
<text x="534.0" y="15.6" font-size="7" text-anchor="middle" fill="#222">V(m/s)</text>
</svg></body></html>
